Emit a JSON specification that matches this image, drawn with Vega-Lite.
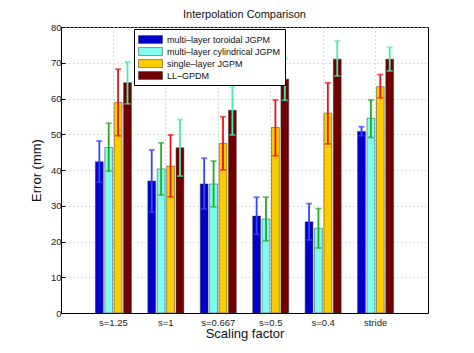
{
  "$schema": "https://vega.github.io/schema/vega-lite/v6.json",
  "autosize": "none",
  "width": 367,
  "height": 286,
  "padding": {"left": 61, "top": 27, "right": 46, "bottom": 40},
  "background": "white",
  "title": {"text": "Interpolation Comparison", "fontSize": 11, "fontWeight": "normal", "font": "Liberation Sans", "color": "#111", "offset": 2},
  "config": {
    "font": "Liberation Sans",
    "view": {"stroke": "#000", "strokeWidth": 1},
    "axis": {"labelFont": "Liberation Sans", "titleFont": "Liberation Sans", "labelColor": "#222", "titleColor": "#111", "titleFontWeight": "normal", "domainColor": "#000", "tickColor": "#000", "gridColor": "#bbb", "gridDash": [1, 3], "gridOpacity": 1},
    "legend": {"labelFont": "Liberation Sans"}
  },
  "data": {"values": [
    {"g": "s=1.25", "s": "multi–layer toroidal JGPM", "v": 42.3, "lo": 36.6, "hi": 48.1},
    {"g": "s=1.25", "s": "multi–layer cylindrical JGPM", "v": 46.3, "lo": 39.7, "hi": 53.1},
    {"g": "s=1.25", "s": "single–layer JGPM", "v": 58.9, "lo": 49.6, "hi": 68.2},
    {"g": "s=1.25", "s": "LL–GPDM", "v": 64.4, "lo": 58.5, "hi": 70.2},
    {"g": "s=1", "s": "multi–layer toroidal JGPM", "v": 36.9, "lo": 28.2, "hi": 45.6},
    {"g": "s=1", "s": "multi–layer cylindrical JGPM", "v": 40.3, "lo": 33.0, "hi": 47.6},
    {"g": "s=1", "s": "single–layer JGPM", "v": 41.1, "lo": 32.5, "hi": 49.8},
    {"g": "s=1", "s": "LL–GPDM", "v": 46.2, "lo": 38.3, "hi": 54.1},
    {"g": "s=0.667", "s": "multi–layer toroidal JGPM", "v": 36.1, "lo": 29.1, "hi": 43.3},
    {"g": "s=0.667", "s": "multi–layer cylindrical JGPM", "v": 36.1, "lo": 29.7, "hi": 42.5},
    {"g": "s=0.667", "s": "single–layer JGPM", "v": 47.4, "lo": 40.0, "hi": 54.9},
    {"g": "s=0.667", "s": "LL–GPDM", "v": 56.7, "lo": 49.8, "hi": 63.4},
    {"g": "s=0.5", "s": "multi–layer toroidal JGPM", "v": 27.1, "lo": 22.0, "hi": 32.4},
    {"g": "s=0.5", "s": "multi–layer cylindrical JGPM", "v": 26.3, "lo": 20.2, "hi": 32.4},
    {"g": "s=0.5", "s": "single–layer JGPM", "v": 51.9, "lo": 44.0, "hi": 59.6},
    {"g": "s=0.5", "s": "LL–GPDM", "v": 65.4, "lo": 59.5, "hi": 71.2},
    {"g": "s=0.4", "s": "multi–layer toroidal JGPM", "v": 25.5, "lo": 20.4, "hi": 30.6},
    {"g": "s=0.4", "s": "multi–layer cylindrical JGPM", "v": 23.7, "lo": 18.2, "hi": 29.2},
    {"g": "s=0.4", "s": "single–layer JGPM", "v": 55.9, "lo": 47.3, "hi": 64.4},
    {"g": "s=0.4", "s": "LL–GPDM", "v": 71.0, "lo": 66.3, "hi": 76.1},
    {"g": "stride", "s": "multi–layer toroidal JGPM", "v": 50.8, "lo": 49.6, "hi": 52.1},
    {"g": "stride", "s": "multi–layer cylindrical JGPM", "v": 54.5, "lo": 49.1, "hi": 59.6},
    {"g": "stride", "s": "single–layer JGPM", "v": 63.3, "lo": 60.2, "hi": 66.7},
    {"g": "stride", "s": "LL–GPDM", "v": 71.0, "lo": 67.7, "hi": 74.3}
  ]},
  "encoding": {
    "x": {"field": "g", "type": "nominal", "sort": null,
      "scale": {"paddingInner": 0.313, "paddingOuter": 0.656},
      "axis": {"title": "Scaling factor", "titleFontSize": 13, "titlePadding": 1, "labelAngle": 0, "labelFontSize": 9.5, "ticks": false, "labelPadding": 4, "grid": true, "bandPosition": 0.5, "domain": true}},
    "xOffset": {"field": "s", "type": "nominal",
      "scale": {"domain": ["multi–layer toroidal JGPM", "multi–layer cylindrical JGPM", "single–layer JGPM", "LL–GPDM"], "paddingInner": 0.17, "paddingOuter": 0}}
  },
  "layer": [
    {
      "mark": {"type": "bar", "stroke": "#333", "strokeWidth": 0.5},
      "encoding": {
        "y": {"field": "v", "type": "quantitative",
          "scale": {"domain": [0, 80], "nice": false},
          "axis": {"title": "Error (mm)", "titleFontSize": 13, "titlePadding": 7, "values": [0, 10, 20, 30, 40, 50, 60, 70, 80], "labelOverlap": false, "labelFontSize": 9.5, "tickSize": -4, "labelPadding": 4, "grid": true}},
        "color": {"field": "s", "type": "nominal",
          "scale": {"domain": ["multi–layer toroidal JGPM", "multi–layer cylindrical JGPM", "single–layer JGPM", "LL–GPDM"], "range": ["#0000cc", "#80fff0", "#ffcc00", "#6e0000"]},
          "legend": {"title": null, "orient": "none", "legendX": 73, "legendY": 2, "strokeColor": "#000", "fillColor": "white", "padding": 4, "labelFontSize": 9, "labelColor": "#111", "symbolType": "M-1,-0.66H3V0.66H-1Z", "symbolSize": 144, "symbolOpacity": 1, "symbolStrokeColor": "#333", "symbolStrokeWidth": 0.5, "labelOffset": 16, "rowPadding": 0, "cornerRadius": 0}}
      }
    },
    {
      "mark": {"type": "rule", "strokeWidth": 1.8},
      "encoding": {
        "y": {"field": "lo", "type": "quantitative",
          "axis": {"title": "Error (mm)", "titleFontSize": 13, "titlePadding": 7, "values": [0, 10, 20, 30, 40, 50, 60, 70, 80], "labelOverlap": false, "labelFontSize": 9.5, "tickSize": -4, "labelPadding": 4, "grid": true}},
        "y2": {"field": "hi"},
        "color": {"field": "s", "type": "nominal",
          "scale": {"domain": ["multi–layer toroidal JGPM", "multi–layer cylindrical JGPM", "single–layer JGPM", "LL–GPDM"], "range": ["#3344ff", "#22aa22", "#ee1111", "#44eeaa"]},
          "legend": null}
      }
    },
    {
      "mark": {"type": "tick", "size": 6, "thickness": 1.8, "orient": "horizontal"},
      "encoding": {
        "y": {"field": "lo", "type": "quantitative",
          "axis": {"title": "Error (mm)", "titleFontSize": 13, "titlePadding": 7, "values": [0, 10, 20, 30, 40, 50, 60, 70, 80], "labelOverlap": false, "labelFontSize": 9.5, "tickSize": -4, "labelPadding": 4, "grid": true}},
        "color": {"field": "s", "type": "nominal",
          "scale": {"domain": ["multi–layer toroidal JGPM", "multi–layer cylindrical JGPM", "single–layer JGPM", "LL–GPDM"], "range": ["#3344ff", "#22aa22", "#ee1111", "#44eeaa"]},
          "legend": null}
      }
    },
    {
      "mark": {"type": "tick", "size": 6, "thickness": 1.8, "orient": "horizontal"},
      "encoding": {
        "y": {"field": "hi", "type": "quantitative",
          "axis": {"title": "Error (mm)", "titleFontSize": 13, "titlePadding": 7, "values": [0, 10, 20, 30, 40, 50, 60, 70, 80], "labelOverlap": false, "labelFontSize": 9.5, "tickSize": -4, "labelPadding": 4, "grid": true}},
        "color": {"field": "s", "type": "nominal",
          "scale": {"domain": ["multi–layer toroidal JGPM", "multi–layer cylindrical JGPM", "single–layer JGPM", "LL–GPDM"], "range": ["#3344ff", "#22aa22", "#ee1111", "#44eeaa"]},
          "legend": null}
      }
    }
  ],
  "resolve": {"scale": {"color": "independent"}}
}
